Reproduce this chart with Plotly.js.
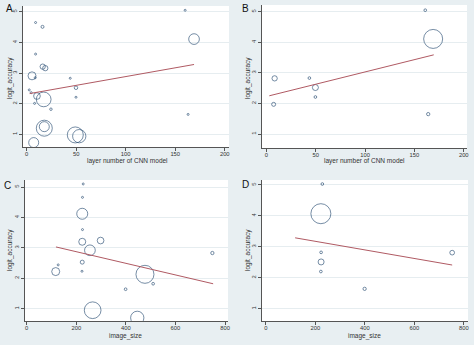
<!DOCTYPE html>
<html><head><meta charset="utf-8">
<script src="https://cdn.plot.ly/plotly-3.0.1.min.js"></script>
<style>html,body{margin:0;padding:0;background:#e8eff2}#c{width:474px;height:345px}</style>
</head><body><div id="c"></div>
<script>
// Panel A: layer number vs logit accuracy (all studies)
const xA = [160, 9, 16, 169, 9, 16.2, 18.8, 5.4, 8.7, 44, 49.8, 49.8, 2.6, 4.6, 10.4, 17.2, 8, 24.5, 163, 17.8, 17.8, 49.1, 53.1, 7.1];
const yA = [5.05, 4.65, 4.51, 4.11, 3.62, 3.21, 3.16, 2.91, 2.85, 2.83, 2.52, 2.21, 2.45, 2.36, 2.25, 2.14, 2.01, 1.82, 1.65, 1.25, 1.2, 0.98, 0.94, 0.73];
const wA = [2, 1.5, 3, 10.7, 1.5, 5.3, 5.3, 8, 2, 1.5, 3.5, 1.5, 1.5, 1.5, 6.7, 14.7, 1.5, 2.5, 2, 10, 16, 16, 13.3, 10];
const fitAx = [3, 169], fitAy = [2.33, 3.28];
// Panel B
const xB = [161, 169, 8.4, 43.6, 49.7, 49.7, 7.4, 164];
const yB = [5.05, 4.11, 2.82, 2.83, 2.52, 2.21, 1.97, 1.65];
const wB = [2.7, 19, 5.3, 2.7, 6, 2.7, 4, 3.3];
const fitBx = [3, 169.6], fitBy = [2.25, 3.59];
// Panel C: image size
const xC = [228, 225, 224, 225, 224, 298, 255, 749, 224, 127, 117, 223, 477, 510, 399, 266, 446];
const yC = [5.1, 4.66, 4.12, 3.6, 3.2, 3.24, 2.92, 2.83, 2.53, 2.44, 2.22, 2.23, 2.13, 1.82, 1.64, 0.95, 0.7];
const wC = [1.5, 1.5, 11, 1, 7, 6.7, 10.7, 3.3, 4, 2, 8, 1.5, 18, 2.7, 2.7, 16.7, 13.3];
const fitCx = [118, 752], fitCy = [3.03, 1.82];
// Panel D
const xD = [228, 222, 223, 753, 223, 222, 399];
const yD = [5.03, 4.07, 2.82, 2.81, 2.51, 2.2, 1.64];
const wD = [2.7, 20, 2.7, 4.7, 6, 2.7, 3.3];
const fitDx = [118, 753], fitDy = [3.29, 2.41];

const xLabels = ["layer number of CNN model", "layer number of CNN model", "image_size", "image_size"];
const yLabel = "logit_accuracy";
const panelLetters = ["A", "B", "C", "D"];

const navy = '#25496f', maroon = '#b05a63';
const fam = 'Liberation Sans, Arial, sans-serif';
function pts(x, y, w, ax) {
  return {x: x, y: y, xaxis: 'x' + ax, yaxis: 'y' + ax, type: 'scatter', mode: 'markers',
    marker: {symbol: 'circle-open', size: w.map(v => Math.max(v, 2)), color: navy, line: {width: 0.9, color: navy}},
    hoverinfo: 'skip', showlegend: false};
}
function fit(x, y, ax) {
  return {x: x, y: y, xaxis: 'x' + ax, yaxis: 'y' + ax, type: 'scatter', mode: 'lines',
    line: {color: maroon, width: 1}, hoverinfo: 'skip', showlegend: false};
}
const data = [
  pts(xA, yA, wA, ''), fit(fitAx, fitAy, ''),
  pts(xB, yB, wB, '2'), fit(fitBx, fitBy, '2'),
  pts(xC, yC, wC, '3'), fit(fitCx, fitCy, '3'),
  pts(xD, yD, wD, '4'), fit(fitDx, fitDy, '4')
];
const tf = {family: fam, size: 5.8, color: '#333'};
function xax(domain, range, dtick, anchor) {
  return {domain: domain, range: range, tick0: 0, dtick: dtick, anchor: anchor, showgrid: false, zeroline: false,
    showline: true, linecolor: '#555', linewidth: 1, ticks: 'outside', ticklen: 3, tickcolor: '#555',
    ticklabelstandoff: -2, tickfont: tf};
}
function yax(domain, range, anchor) {
  return {domain: domain, range: range, tick0: 1, dtick: 1, anchor: anchor, showgrid: true, gridcolor: '#e6edf0', gridwidth: 1,
    zeroline: false, showline: true, linecolor: '#555', linewidth: 1, ticks: 'outside', ticklen: 3, tickcolor: '#555',
    tickangle: -90, tickfont: tf};
}
const ann = [];
[[9, 9], [245, 8], [8, 185], [245, 184]].forEach((p, i) => ann.push({
  text: panelLetters[i], x: p[0]/474, y: 1 - p[1]/345, xref: 'paper', yref: 'paper',
  showarrow: false, xanchor: 'center', yanchor: 'middle', font: {family: fam, size: 10, color: '#111'}}));
[[127, 160.5], [364, 160.5], [126, 335.5], [364, 335.5]].forEach((p, i) => ann.push({
  text: xLabels[i], x: p[0]/474, y: 1 - p[1]/345, xref: 'paper', yref: 'paper',
  showarrow: false, xanchor: 'center', yanchor: 'middle', font: {family: fam, size: 6.5, color: '#333'}}));
[[10, 78], [248, 78], [10, 250], [248, 250]].forEach((p, i) => ann.push({
  text: yLabel, x: p[0]/474, y: 1 - p[1]/345, xref: 'paper', yref: 'paper', textangle: -90,
  showarrow: false, xanchor: 'center', yanchor: 'middle', font: {family: fam, size: 6.5, color: '#333'}}));
const layout = {
  width: 474, height: 345, margin: {l: 0, r: 0, t: 0, b: 0},
  paper_bgcolor: '#e8eff2', plot_bgcolor: '#ffffff', showlegend: false,
  xaxis: xax([23/474, 229/474], [-3.7, 204.3], 50, 'y'),
  yaxis: yax([198/345, 339/345], [0.586, 5.19], 'x'),
  xaxis2: xax([262/474, 467/474], [-4.4, 203.3], 50, 'y2'),
  yaxis2: yax([197/345, 340/345], [0.542, 5.22], 'x2'),
  xaxis3: xax([25/474, 228/474], [-6.9, 812], 200, 'y3'),
  yaxis3: yax([24/345, 165/345], [0.596, 5.23], 'x3'),
  xaxis4: xax([262/474, 468/474], [-16, 817], 200, 'y4'),
  yaxis4: yax([24/345, 165/345], [0.60, 5.16], 'x4'),
  annotations: ann
};
Plotly.newPlot('c', data, layout, {staticPlot: true, displayModeBar: false});
</script></body></html>
